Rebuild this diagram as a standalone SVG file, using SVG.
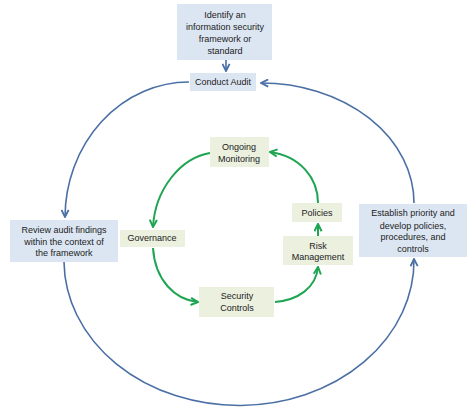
<svg xmlns="http://www.w3.org/2000/svg" width="474" height="409" viewBox="0 0 474 409">
<style>
text{font-family:"Liberation Sans",Arial,sans-serif;font-size:9px;fill:#222;text-anchor:middle}
.blue{fill:#DCE6F2}
.green{fill:#EBF0DF}
.bl{fill:none;stroke:#4A6FA5;stroke-width:1.6}
.gr{fill:none;stroke:#1FA552;stroke-width:2}
</style>
<defs>
<marker id="ab" viewBox="0 0 10 10" refX="9" refY="5" markerWidth="9" markerHeight="9" markerUnits="userSpaceOnUse" orient="auto">
<path d="M1,1 L9,5 L1,9" fill="none" stroke="#4A6FA5" stroke-width="2"/>
</marker>
<marker id="ag" viewBox="0 0 10 10" refX="9" refY="5" markerWidth="9" markerHeight="9" markerUnits="userSpaceOnUse" orient="auto">
<path d="M1,1 L9,5 L1,9" fill="none" stroke="#1FA552" stroke-width="2.2"/>
</marker>
</defs>
<rect width="474" height="409" fill="#fff"/>
<g id="connectors">
<path class="bl" d="M226,60 L226,71" marker-end="url(#ab)"/>
<path class="bl" d="M189,82 A124,136 0 0 0 65,217" marker-end="url(#ab)"/>
<path class="bl" d="M64,262 A175,145 0 0 0 414,259" marker-end="url(#ab)"/>
<path class="bl" d="M414,203 A153,120 0 0 0 261,83" marker-end="url(#ab)"/>
<path class="gr" d="M210,153 C180,158 155,190 153,227" marker-end="url(#ag)"/>
<path class="gr" d="M153,248 C155,280 175,300 198,302" marker-end="url(#ag)"/>
<path class="gr" d="M275,302 C298,300 316,288 318,267" marker-end="url(#ag)"/>
<path class="gr" d="M318,236 L318,224" marker-end="url(#ag)"/>
<path class="gr" d="M318,203 C318,178 300,156 270,152" marker-end="url(#ag)"/>
</g>
<g id="identify">
<rect class="blue" x="177" y="4" width="95" height="56"/>
<text x="225" y="18">Identify an</text>
<text x="225" y="30">information security</text>
<text x="225" y="42">framework or</text>
<text x="225" y="54">standard</text>
</g>
<g id="conduct">
<rect class="blue" x="190" y="73" width="66" height="18"/>
<text x="223" y="85">Conduct Audit</text>
</g>
<g id="review">
<rect class="blue" x="10" y="220" width="108" height="42"/>
<text x="64" y="233">Review audit findings</text>
<text x="64" y="245">within the context of</text>
<text x="64" y="256">the framework</text>
</g>
<g id="establish">
<rect class="blue" x="359" y="204" width="108" height="53"/>
<text x="413" y="216">Establish priority and</text>
<text x="413" y="229">develop policies,</text>
<text x="413" y="240">procedures, and</text>
<text x="413" y="252">controls</text>
</g>
<g id="monitoring">
<rect class="green" x="210" y="137" width="59" height="30"/>
<text x="239" y="150">Ongoing</text>
<text x="239" y="162">Monitoring</text>
</g>
<g id="governance">
<rect class="green" x="120" y="230" width="65" height="17"/>
<text x="152" y="241">Governance</text>
</g>
<g id="security">
<rect class="green" x="199" y="287" width="75" height="30"/>
<text x="237" y="299">Security</text>
<text x="237" y="311">Controls</text>
</g>
<g id="risk">
<rect class="green" x="283" y="236" width="70" height="29"/>
<text x="318" y="249">Risk</text>
<text x="318" y="260">Management</text>
</g>
<g id="policies">
<rect class="green" x="292" y="203" width="50" height="19"/>
<text x="317" y="216">Policies</text>
</g>
</svg>
